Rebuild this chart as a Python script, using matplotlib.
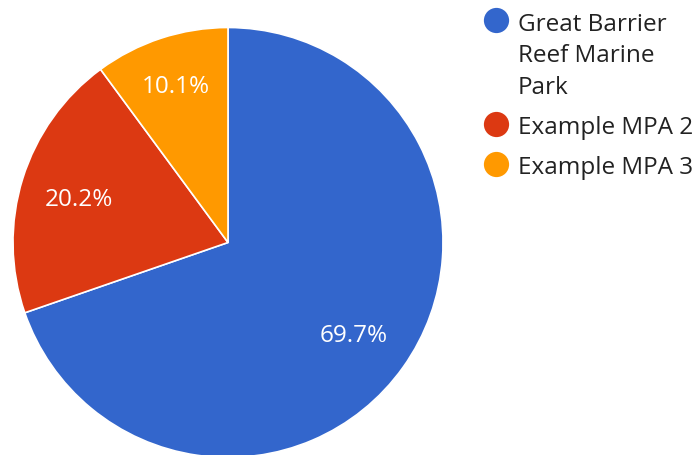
import matplotlib
matplotlib.use("Agg")
import matplotlib.pyplot as plt
import numpy as np

labels = ["Great Barrier\nReef Marine\nPark", "Example MPA 2", "Example MPA 3"]
values = [69.7, 20.2, 10.1]
colors = ["#3366cc", "#dc3912", "#ff9900"]

W, H = 696, 456
CX, CY, R = 228, H - 243.5, 215
label_frac = [0.716, 0.724, 0.781]

fig = plt.figure(figsize=(W / 100, H / 100), dpi=100)
ax = fig.add_axes([0, 0, 1, 1])

font = "Open Sans"
FS = 17.5
wedges, texts, autotexts = ax.pie(
    values, colors=colors, startangle=90, counterclock=False,
    center=(CX, CY), radius=R,
    autopct="%.1f%%", pctdistance=0.72,
    wedgeprops=dict(edgecolor="white", linewidth=1.2),
    textprops=dict(color="white", fontsize=FS, family=font),
    frame=True,
)
for w, t, f in zip(wedges, autotexts, label_frac):
    th = np.deg2rad((w.theta1 + w.theta2) / 2)
    t.set_position((CX + R * f * np.cos(th), CY + R * f * np.sin(th) - 8.8))
    t.set_va("baseline")
    t.set_ha("center")

ax.set_xlim(0, W)
ax.set_ylim(0, H)
ax.set_aspect("equal")
ax.axis("off")

ys = [21, 125, 165]
for lab, c, y in zip(labels, colors, ys):
    ax.scatter([496], [H - y], s=330, color=c, zorder=3, linewidths=0)
    for i, line in enumerate(lab.split("\n")):
        ax.text(518, H - (y + 9.5 + i * 31.7), line, va="baseline", ha="left",
                fontsize=FS, family=font, color="#222222")

fig.savefig("out.png", dpi=100)
